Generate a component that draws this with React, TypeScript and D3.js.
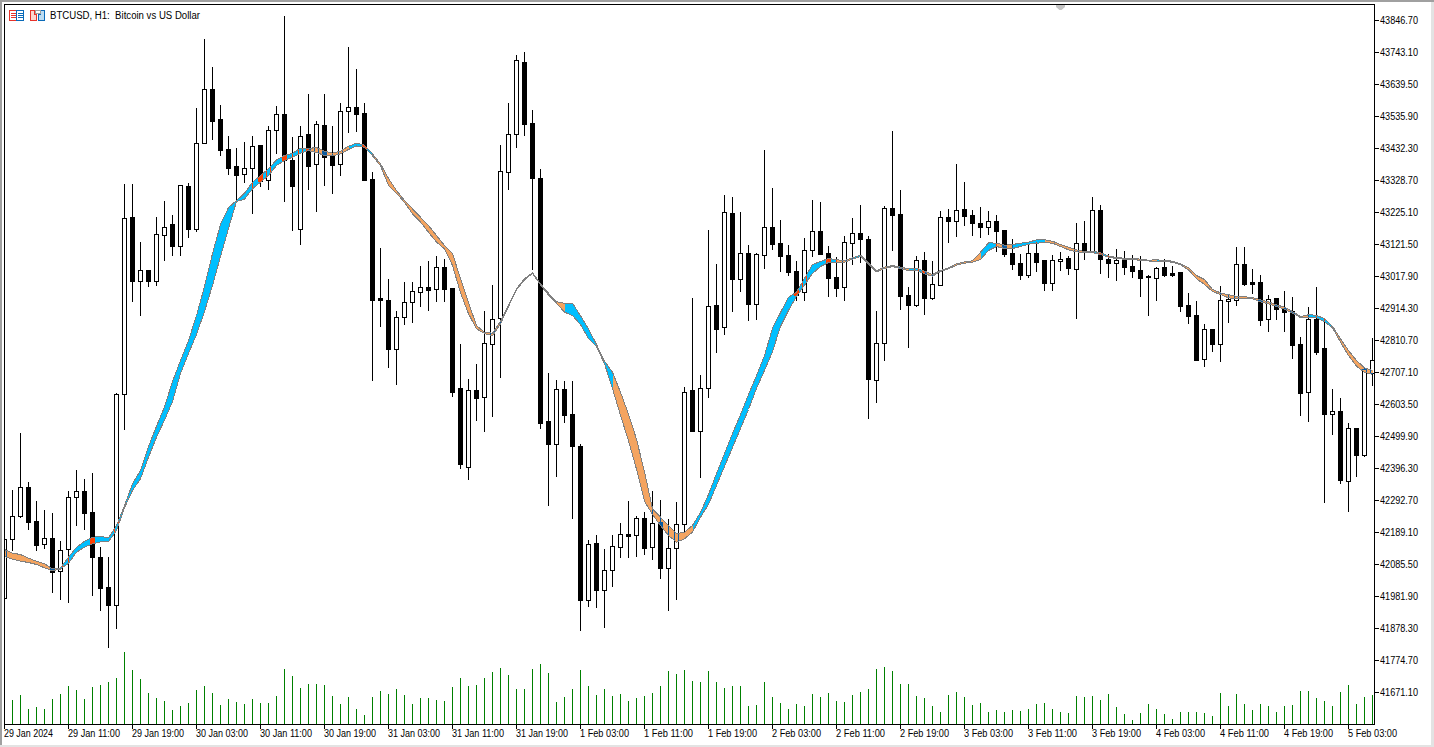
import React from "react";
import * as d3 from "d3";

const highs = [42170,42325,42510,42351,42289,42260,42251,42160,42322,42390,42361,42380,42141,42108,42639,43316,43316,43128,43037,43209,43261,43215,43312,43319,43562,43785,43695,43571,43471,43432,43452,43471,43442,43504,43568,43860,43468,43504,43607,43520,43607,43504,43578,43759,43688,43578,43355,43109,43008,42905,42999,42999,43050,43067,43083,43073,42979,42798,42684,42733,42905,42989,43442,43578,43733,43743,43555,43364,42704,42681,42678,42678,42474,42163,42179,42134,42179,42218,42289,42241,42254,42322,42293,42231,42286,42659,42947,42697,43167,43057,43280,43274,43225,43118,43092,43426,43303,43199,43118,43067,43141,43264,43257,43115,43079,43147,43206,43248,43147,42905,43245,43487,43296,42982,43083,43096,43067,43228,43235,43380,43322,43232,43241,43228,43215,43167,43138,43089,43122,43128,43070,43086,43096,43083,43189,43196,43274,43248,43089,43105,43099,43086,43083,43021,43047,43073,43050,43031,42963,42937,42863,42846,42986,42956,43112,43112,43041,43021,42956,42947,42969,42950,42820,42918,42982,42882,42652,42623,42542,42526,42723,42817];
const lows = [41975,42131,42238,42199,42131,42137,41995,41972,41963,42212,42199,41985,41937,41817,41878,42523,42937,42892,42986,42989,43070,43086,43086,43144,43164,43448,43461,43410,43348,43264,43322,43222,43309,43300,43416,43261,43167,43122,43300,43228,43312,43287,43345,43484,43487,43329,42681,42856,42723,42668,42863,42869,42921,42908,42937,42937,42629,42396,42361,42552,42516,42565,42691,43300,43436,43474,43041,42526,42277,42370,42545,42234,41872,41950,41946,41882,42014,42108,42108,42111,42118,42102,42040,41937,41972,42189,42516,42367,42626,42772,42830,42905,42969,42875,42879,43044,43105,43034,43021,42940,42940,43083,43089,42953,42953,42940,43057,43063,42558,42610,42746,43102,42911,42788,42921,42895,42943,42989,43128,43147,43183,43151,43144,43154,43099,43083,43041,43008,43015,43034,42973,42973,43037,43024,42882,43073,43099,43028,43015,43005,43024,43015,42953,42892,42940,43018,43018,42905,42866,42746,42727,42775,42743,42869,42924,42989,42963,42859,42840,42879,42840,42752,42568,42548,42765,42286,42506,42348,42257,42370,42435,42665];
const opens = [41975,42166,42241,42335,42225,42150,42170,42063,42134,42302,42322,42254,42108,42011,41953,42636,43209,43002,43037,43002,43151,43186,43115,43309,43170,43448,43623,43526,43429,43374,43348,43368,43442,43329,43491,43542,43393,43170,43478,43380,43507,43406,43380,43552,43565,43546,43332,42947,42940,42782,42885,42934,42966,42982,42976,43047,42979,42655,42400,42649,42626,42798,42882,43355,43478,43711,43513,43335,42548,42474,42652,42571,42467,41969,42154,42001,42066,42141,42183,42179,42234,42141,42221,42073,42137,42215,42649,42516,42655,42924,42853,43222,43008,43092,42927,43086,43177,43125,43086,43034,42966,43102,43164,43092,43015,42982,43125,43157,43138,42681,42801,43238,43219,42956,42924,43070,42947,42989,43209,43196,43235,43215,43189,43177,43196,43167,43092,43060,43021,43092,43070,42995,43067,43076,43041,43125,43099,43232,43073,43060,43070,43050,43037,43018,43011,43047,43028,43031,42924,42892,42749,42846,42798,42937,42940,43057,42999,42999,42879,42947,42914,42905,42798,42642,42879,42785,42571,42581,42354,42526,42438,42704];
const closes = [42166,42241,42335,42221,42147,42170,42060,42131,42302,42322,42251,42108,42008,41953,42636,43206,43002,43037,43002,43154,43177,43115,43312,43170,43448,43623,43520,43426,43368,43345,43368,43439,43325,43491,43542,43393,43309,43471,43374,43510,43403,43377,43552,43565,43542,43329,42940,42940,42782,42885,42934,42969,42982,42973,43047,42976,42642,42409,42649,42623,42801,42879,43358,43478,43717,43510,43335,42542,42474,42652,42568,42467,41969,42150,42001,42066,42144,42183,42176,42234,42137,42218,42073,42137,42215,42642,42516,42655,42921,42846,43225,43008,43092,42927,43089,43177,43122,43083,43031,42956,43102,43164,43089,43011,42979,43128,43157,43138,42684,42801,43238,43215,42953,42924,43070,42947,42992,43209,43196,43232,43212,43189,43177,43196,43164,43089,43057,43021,43092,43063,42995,43070,43073,43044,43125,43099,43232,43073,43060,43070,43047,43034,43011,43015,43044,43021,43021,42921,42888,42746,42846,42798,42940,42943,43057,42992,42992,42875,42943,42911,42901,42795,42639,42879,42772,42571,42581,42357,42526,42438,42717,42746];
const volumes = [0,24,29,15,17,15,25,30,38,34,25,37,39,42,46,72,54,45,31,26,23,14,18,21,34,38,31,19,25,22,20,25,21,21,28,55,48,36,40,40,39,28,20,27,15,9,27,33,30,35,29,20,26,26,24,23,37,46,38,39,46,52,56,49,35,35,55,60,51,22,27,35,54,38,29,35,28,30,23,26,28,31,38,53,50,54,43,42,53,42,36,38,38,18,19,42,27,21,15,20,18,30,27,31,23,22,29,32,35,55,57,53,40,40,28,26,18,12,29,32,27,19,21,12,14,12,14,13,15,20,21,15,12,11,28,27,28,24,30,17,10,4,11,20,15,10,5,12,12,12,11,8,31,18,30,20,14,20,18,12,18,19,33,33,26,23,18,32,39,20,27,29];
const maUpper = [42134.1,42122.1,42117.9,42105.9,42096.2,42087.8,42071.6,42074.2,42109.1,42141.5,42160.9,42173.9,42176.2,42171.9,42211.8,42276.5,
42346.8,42389.8,42467.5,42533.2,42596.0,42678.0,42746.0,42810.7,42891.6,42985.5,43092.4,43186.3,43241.3,43264.0,
43287.6,43323.2,43344.9,43366.6,43395.7,43409.6,43417.1,43433.3,43432.3,43435.5,43423.6,43417.1,43423.6,43439.8,43449.5,43443.0,43415.1,43382.8,43335.2,43296.3,43264.0,43237.1,43209.9,43183.0,43150.6,
43118.3,43092.4,43011.4,42933.7,42859.3,42837.6,
42834.3,42873.2,42924.0,42978.1,43010.5,43029.9,42994.3,42963.8,42936.0,42931.5,42931.5,42890.7,42848.6,42797.8,42743.7,
42708.1,42643.3,42572.1,42491.2,42385.6,42265.8,
42238.6,42211.8,42184.9,42190.1,42211.8,42254.8,
42312.1,42380.1,42444.9,42509.6,42571.1,42635.9,42697.4,42762.1,42850.5,42901.4,42950.9,42967.1,43011.4,
43056.8,43066.5,43076.2,43072.0,43069.7,43078.4,43086.9,43061.0,43037.3,43048.0,43053.5,43048.0,43042.8,43044.8,43035.1,43024.4,43037.3,43046.1,43059.0,43065.5,43068.7,43096.6,43127.0,43125.7,43119.2,43121.5,43125.7,43129.0,43136.7,43136.7,43132.2,43121.5,43112.8,43104.3,43098.8,43099.8,43094.6,43084.9,43079.4,43077.1,43077.1,43073.9,43070.7,43072.0,43069.7,43067.5,43059.0,43046.1,43021.1,43008.2,42975.8,42965.1,42958.7,42954.1,42952.2,42949.9,42942.5,42936.0,42926.3,42918.5,42904.6,42888.4,42893.9,42892.6,42881.0,42857.0,42816.2,42778.3,42746.0,42722.3,42713.6];
const maLower = [42111.4,42102.7,42096.2,42092.0,42085.5,42074.8,42065.1,42070.9,42089.7,42125.3,42141.5,42152.5,42159.0,42159.0,42195.6,42269.1,
42325.1,42363.0,42432.9,42497.6,42552.7,42613.2,42703.9,42768.6,42830.1,42904.6,42988.8,43082.7,43173.3,43260.7,
43268.2,43301.8,43323.2,43344.9,43377.3,43393.4,43404.1,43417.1,43425.8,43419.4,43409.6,43408.7,43415.1,43429.1,43440.4,43436.5,43408.7,43376.3,43312.5,43287.6,43257.5,43220.9,43193.7,43161.3,43129.0,
43107.6,43053.5,42965.1,42897.1,42848.6,42833.4,
42825.9,42864.8,42920.8,42974.8,43007.2,43027.6,42991.0,42957.4,42931.5,42902.3,42891.6,42862.5,42817.2,42791.3,42735.3,
42655.3,42568.9,42486.0,42394.0,42290.4,42247.4,
42211.8,42179.4,42157.7,42168.7,42190.1,42238.6,
42279.8,42341.3,42402.8,42464.3,42525.8,42587.3,42655.3,42713.6,42775.1,42856.0,42907.8,42954.1,42989.7,
43027.6,43050.3,43063.2,43063.2,43064.2,43073.9,43082.7,43056.8,43033.1,43043.8,43050.3,43043.8,43036.4,43038.3,43026.6,43018.9,43034.1,43042.8,43054.5,43061.0,43064.2,43072.9,43102.1,43115.0,43108.6,43108.6,43115.0,43122.5,43125.7,43128.0,43125.7,43115.0,43104.3,43097.8,43094.6,43095.6,43089.1,43080.4,43076.2,43073.9,43073.9,43069.7,43068.4,43065.5,43066.5,43064.2,43055.8,43039.6,43010.5,42992.0,42969.3,42959.6,42948.9,42945.7,42946.7,42945.7,42936.0,42929.5,42920.8,42912.0,42899.1,42885.2,42885.2,42884.2,42871.2,42851.8,42805.2,42762.1,42727.5,42708.1,42700.6];
// indices where the ribbon changes colour; the first run is falling, then they alternate
const trendChanges = [0,7,38,43,46,62,67,70,76,86,104,106,108,113,115,122,124,126,130,136,138,144,147,163,166];
const priceTicks = ["43846.70","43743.10","43639.50","43535.90","43432.30","43328.70","43225.10","43121.50","43017.90","42914.30","42810.70","42707.10","42603.50","42499.90","42396.30","42292.70","42189.10","42085.50","41981.90","41878.30","41774.70","41671.10"];
const timeTicks = ["29 Jan 2024","29 Jan 11:00","29 Jan 19:00","30 Jan 03:00","30 Jan 11:00","30 Jan 19:00","31 Jan 03:00","31 Jan 11:00","31 Jan 19:00","1 Feb 03:00","1 Feb 11:00","1 Feb 19:00","2 Feb 03:00","2 Feb 11:00","2 Feb 19:00","3 Feb 03:00","3 Feb 11:00","3 Feb 19:00","4 Feb 03:00","4 Feb 11:00","4 Feb 19:00","5 Feb 03:00"];
const title = "BTCUSD, H1:  Bitcoin vs US Dollar";

const W = 1434, H = 747;
const LEFT = 4, RIGHT = 1374, TOP = 4, BOTTOM = 724;
const FONT = "'Liberation Sans', Arial, sans-serif";
const INV = { blue: "#FF4000", orange: "#0B5B9F" }; // inverted fills: difference blend gives #00BFFF / #F4A460 on white, and the inverse on black candles

const xBand = d3.scaleLinear().domain([0, 1]).range([4, 12]);
const yPrice = d3.scaleLinear().domain([41671.1, 43846.7]).range([692, 20]);
const yVol = d3.scaleLinear().domain([0, 72]).range([BOTTOM, BOTTOM - 72]);
const row = (p: number) => Math.round(yPrice(p));
const cx = (i: number) => xBand(i) + 0.5;

const areaGen = d3.area<number>().x((i) => cx(i)).y0((i) => yPrice(maUpper[i])).y1((i) => yPrice(maLower[i]));
const upperLine = d3.line<number>().x((i) => cx(i)).y((i) => yPrice(maUpper[i]) + 0.5);
const lowerLine = d3.line<number>().x((i) => cx(i)).y((i) => yPrice(maLower[i]) + 0.5);

export default function App() {
  const all = d3.range(maUpper.length);
  const runs = trendChanges.map((start, k) => {
    const end = k + 1 < trendChanges.length ? trendChanges[k + 1] : maUpper.length - 1;
    return { idx: d3.range(start, end + 1), rising: k % 2 === 1 };
  });
  return (
    <>
      <style>{`html,body{margin:0;padding:0;background:#fff}svg{display:block}`}</style>
      <svg width={W} height={H} viewBox={`0 0 ${W} ${H}`} style={{ isolation: "isolate" }}>
        <defs>
          <clipPath id="plot">
            <rect x={LEFT} y={TOP} width={RIGHT - LEFT} height={BOTTOM - TOP} />
          </clipPath>
        </defs>
        <rect width={W} height={H} fill="#fff" />
        {/* window chrome */}
        <rect x={0} y={0} width={2} height={H} fill="#a0a0a0" />
        <rect x={0} y={745} width={W} height={2} fill="#e3e3e3" />
        <rect x={1431} y={0} width={3} height={H} fill="#e3e3e3" />
        <rect x={0} y={0} width={W} height={2} fill="#a0a0a0" />

        <g clipPath="url(#plot)">
          {/* opaque backdrop: the clip group is isolated, and the difference blend needs white beneath it */}
          <rect x={LEFT} y={TOP} width={RIGHT - LEFT} height={BOTTOM - TOP} fill="#fff" />
          {/* volumes */}
          <g shapeRendering="crispEdges">
            {volumes.map((v, i) => (v > 0 ? <rect key={i} x={xBand(i)} y={yVol(v)} width={1} height={BOTTOM - yVol(v)} fill="#008000" /> : null))}
          </g>

          {/* candles */}
          <g shapeRendering="crispEdges">
            {closes.map((c, i) => {
              const o = opens[i];
              const t = row(Math.max(o, c)), b = row(Math.min(o, c));
              const hi = row(highs[i]), lo = row(lows[i]);
              const up = c >= o;
              return (
                <g key={i}>
                  <rect x={xBand(i)} y={hi} width={1} height={lo - hi + 1} fill="#000" />
                  <rect x={cx(i) - 2} y={t + 0.5} width={4} height={Math.max(b - t, 1)} fill={up ? "#fff" : "#000"} stroke="#000" strokeWidth={1} />
                </g>
              );
            })}
          </g>

          {/* moving-average ribbon: fills sit directly in this group so they blend with the candles */}
          {runs.map((r, k) => (
            <path key={k} d={areaGen(r.idx) || ""} fill={r.rising ? INV.blue : INV.orange} shapeRendering="crispEdges" style={{ mixBlendMode: "difference" }} />
          ))}
          <g shapeRendering="crispEdges">
            <path d={upperLine(all) || ""} fill="none" stroke="#808080" strokeWidth={1} />
            <path d={lowerLine(all) || ""} fill="none" stroke="#808080" strokeWidth={1} />
          </g>
          {/* scroll marker, below the top frame line */}
          <path d="M1056 5H1065V7L1061.5 10H1059.5L1056 7Z" fill="#c4c4c4" />
        </g>

        {/* frame */}
        <g shapeRendering="crispEdges" fill="#000">
          <rect x={LEFT} y={TOP} width={RIGHT - LEFT + 1} height={1} />
          <rect x={LEFT} y={TOP} width={1} height={BOTTOM - TOP + 1} />
          <rect x={LEFT} y={BOTTOM} width={RIGHT - LEFT + 1} height={1} />
          <rect x={RIGHT} y={TOP} width={1} height={BOTTOM - TOP + 1} />
        </g>

        {/* price axis */}
        <g fontFamily={FONT} fontSize={10} fill="#000">
          {priceTicks.map((t) => {
            const y = row(+t);
            return (
              <g key={t}>
                <rect x={RIGHT} y={y} width={5} height={1} shapeRendering="crispEdges" />
                <text x={1380} y={y + 4} textLength={38} lengthAdjust="spacingAndGlyphs">{t}</text>
              </g>
            );
          })}
        </g>

        {/* time axis */}
        <g fontFamily={FONT} fontSize={10} fill="#000">
          {timeTicks.map((t, k) => {
            const x = xBand(k * 8);
            return (
              <g key={t}>
                <rect x={x} y={BOTTOM} width={1} height={5} shapeRendering="crispEdges" />
                <text x={x} y={737} textLength={t.length === 12 ? 52 : 49} lengthAdjust="spacingAndGlyphs">{t}</text>
              </g>
            );
          })}
        </g>

        {/* title and icons */}
        <g shapeRendering="crispEdges">
          <rect x={9.5} y={10.5} width={7} height={10} fill="#fff" stroke="#e8332a" />
          <rect x={16.5} y={10.5} width={7} height={10} fill="#fff" stroke="#0a6ab8" />
          <path d="M11 13.5H16M11 15.5H16M11 17.5H16" stroke="#e8332a" />
          <path d="M18 13.5H23M18 15.5H23M18 17.5H23" stroke="#0a6ab8" />
          <path d="M30.5 10.5H34.5V14.5H36.5V20.5H30.5Z" fill="#fbd6cf" stroke="#e8332a" />
          <path d="M38.5 14.5H40.5V10.5H44.5V20.5H38.5Z" fill="#bcdcf2" stroke="#0a6ab8" />
          <rect x={35.5} y={10.5} width={5} height={3} fill="#fff" stroke="#a0a0a0" />
        </g>
        <text x={50} y={19} fontFamily={FONT} fontSize={10} fill="#000" textLength={150} lengthAdjust="spacingAndGlyphs" xmlSpace="preserve">{title}</text>
      </svg>
    </>
  );
}
